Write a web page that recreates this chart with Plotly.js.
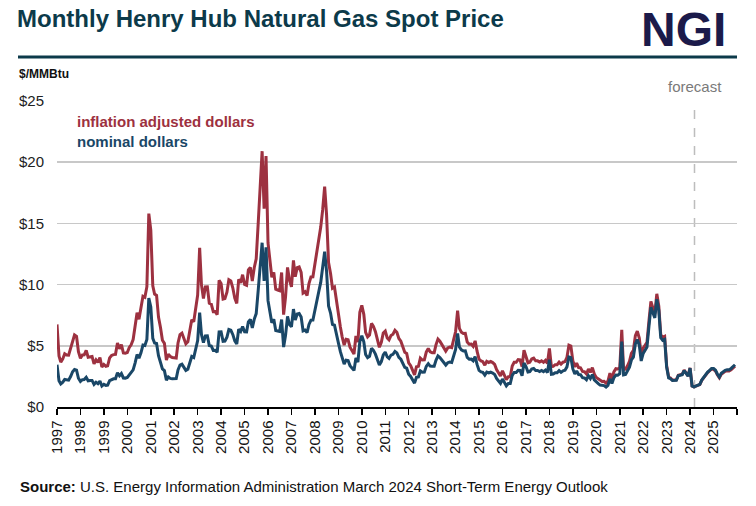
<!DOCTYPE html>
<html>
<head>
<meta charset="utf-8">
<script src="https://cdn.plot.ly/plotly-3.0.1.min.js"></script>
<style>
  html, body { margin: 0; padding: 0; background: #ffffff; }
  #chart { width: 756px; height: 506px; }
</style>
</head>
<body>
<div id="chart"></div>
<script>
// Henry Hub monthly spot price, $/MMBtu, Jan 1997 - Dec 2025 (2024-03 onward is forecast)
const startYear = 1997;

const nominalDollars = [
  3.45, 2.15, 1.89, 2.03, 2.25, 2.20, 2.19, 2.49, 2.88, 3.07, 3.01, 2.35, // 1997
  2.09, 2.23, 2.24, 2.43, 2.14, 2.17, 2.17, 1.85, 2.02, 1.91, 2.12, 1.72, // 1998
  1.85, 1.77, 1.79, 2.15, 2.26, 2.30, 2.31, 2.80, 2.55, 2.73, 2.37, 2.36, // 1999
  2.42, 2.66, 2.79, 3.04, 3.59, 4.29, 3.99, 4.43, 5.06, 5.02, 5.52, 8.90, // 2000
  8.17, 5.61, 5.23, 5.19, 4.19, 3.72, 3.11, 2.97, 2.19, 2.46, 2.34, 2.30, // 2001
  2.32, 2.32, 3.03, 3.43, 3.50, 3.26, 2.99, 3.09, 3.55, 4.13, 4.04, 4.74, // 2002
  5.43, 7.71, 5.93, 5.26, 5.81, 5.82, 5.03, 4.99, 4.62, 4.63, 4.47, 6.13, // 2003
  6.14, 5.37, 5.39, 5.71, 6.33, 6.27, 5.93, 5.41, 5.15, 6.35, 6.17, 6.58, // 2004
  6.15, 6.14, 6.96, 7.16, 6.47, 7.18, 7.63, 9.53, 11.75, 13.42, 10.30, 13.05, // 2005
  8.69, 7.54, 6.89, 7.16, 6.25, 6.21, 6.17, 7.14, 4.90, 5.85, 7.41, 6.73, // 2006
  6.55, 8.00, 7.11, 7.60, 7.64, 7.35, 6.22, 6.29, 6.08, 6.74, 7.10, 7.11, // 2007
  7.99, 8.54, 9.41, 10.18, 11.27, 12.69, 11.09, 8.26, 7.67, 6.74, 6.68, 5.82, // 2008
  5.24, 4.52, 3.96, 3.50, 3.83, 3.80, 3.38, 3.14, 2.99, 4.01, 3.66, 5.35, // 2009
  5.83, 5.32, 4.29, 4.03, 4.14, 4.80, 4.63, 4.32, 3.89, 3.43, 3.71, 4.25, // 2010
  4.49, 4.09, 3.97, 4.24, 4.31, 4.54, 4.42, 4.06, 3.90, 3.57, 3.24, 3.17, // 2011
  2.67, 2.50, 2.17, 1.95, 2.43, 2.46, 2.95, 2.84, 2.85, 3.32, 3.54, 3.34, // 2012
  3.33, 3.33, 3.81, 4.17, 4.04, 3.83, 3.62, 3.43, 3.62, 3.68, 3.64, 4.24, // 2013
  4.71, 6.00, 4.90, 4.66, 4.58, 4.59, 4.05, 3.91, 3.92, 3.78, 4.12, 3.48, // 2014
  2.99, 2.87, 2.83, 2.61, 2.85, 2.78, 2.84, 2.77, 2.66, 2.34, 2.09, 1.93, // 2015
  2.28, 1.99, 1.73, 1.92, 1.92, 2.59, 2.82, 2.82, 2.99, 2.98, 2.55, 3.59, // 2016
  3.30, 2.85, 2.88, 3.10, 3.15, 2.98, 2.98, 2.90, 2.98, 2.88, 3.01, 2.82, // 2017
  3.87, 2.67, 2.69, 2.80, 2.80, 2.97, 2.83, 2.96, 3.00, 3.28, 4.09, 4.04, // 2018
  3.11, 2.69, 2.95, 2.65, 2.64, 2.40, 2.37, 2.22, 2.56, 2.33, 2.65, 2.22, // 2019
  2.02, 1.91, 1.79, 1.74, 1.75, 1.63, 1.77, 2.30, 1.92, 2.39, 2.61, 2.59, // 2020
  2.71, 5.35, 2.62, 2.66, 2.91, 3.26, 3.84, 4.07, 5.16, 5.51, 5.05, 3.76, // 2021
  4.38, 4.69, 4.90, 6.60, 8.14, 7.70, 7.28, 8.81, 7.88, 5.66, 5.45, 5.53, // 2022
  3.27, 2.38, 2.31, 2.16, 2.15, 2.18, 2.55, 2.58, 2.64, 2.98, 2.71, 2.52, // 2023
  3.18, 1.72, 1.65, 1.70, 1.75, 1.85, 2.20, 2.45, 2.65, 2.85, 3.00, 3.15, // 2024
  3.15, 3.00, 2.70, 2.45, 2.75, 2.90, 3.00, 3.05, 3.05, 3.15, 3.30, 3.45  // 2025
];

const inflationAdjustedDollars = [
  6.75, 4.17, 3.67, 3.93, 4.35, 4.25, 4.23, 4.81, 5.54, 5.89, 5.78, 4.51, // 1997
  3.98, 4.25, 4.26, 4.63, 4.07, 4.13, 4.13, 3.52, 3.85, 3.64, 4.04, 3.27, // 1998
  3.48, 3.33, 3.37, 4.01, 4.21, 4.28, 4.30, 5.22, 4.75, 5.09, 4.42, 4.40, // 1999
  4.45, 4.87, 5.08, 5.51, 6.48, 7.70, 7.17, 7.96, 9.04, 8.96, 9.83, 15.80, // 2000
  14.46, 9.91, 9.22, 9.12, 7.34, 6.50, 5.45, 5.20, 3.83, 4.31, 4.12, 4.05, // 2001
  4.00, 4.00, 5.23, 5.92, 6.04, 5.62, 5.16, 5.33, 6.12, 7.12, 6.97, 8.18, // 2002
  9.15, 13.00, 10.00, 8.87, 9.80, 9.81, 8.48, 8.41, 7.79, 7.81, 7.54, 10.34, // 2003
  10.09, 8.82, 8.86, 9.38, 10.40, 10.30, 9.74, 8.89, 8.46, 10.43, 10.14, 10.81, // 2004
  10.02, 9.95, 11.20, 11.40, 10.30, 11.40, 12.10, 15.00, 18.40, 20.90, 16.20, 20.50, // 2005
  13.40, 11.60, 10.60, 11.00, 9.62, 9.56, 9.50, 10.99, 7.54, 9.00, 11.40, 10.36, // 2006
  9.81, 11.98, 10.64, 11.38, 11.44, 11.00, 9.31, 9.42, 9.10, 10.09, 10.63, 10.64, // 2007
  11.70, 12.50, 13.70, 14.70, 16.10, 18.00, 15.70, 11.80, 10.90, 9.70, 9.80, 8.60, // 2008
  7.58, 6.54, 5.73, 5.06, 5.54, 5.50, 4.89, 4.54, 4.33, 5.80, 5.30, 7.74, // 2009
  8.30, 7.57, 6.10, 5.73, 5.89, 6.83, 6.59, 6.15, 5.54, 4.88, 5.28, 6.05, // 2010
  6.20, 5.64, 5.48, 5.85, 5.95, 6.27, 6.10, 5.60, 5.38, 4.93, 4.47, 4.37, // 2011
  3.61, 3.38, 2.93, 2.63, 3.28, 3.32, 3.99, 3.84, 3.85, 4.49, 4.78, 4.51, // 2012
  4.44, 4.44, 5.08, 5.55, 5.38, 5.10, 4.82, 4.57, 4.82, 4.90, 4.85, 5.65, // 2013
  6.17, 7.87, 6.42, 6.11, 6.00, 6.02, 5.31, 5.13, 5.14, 4.96, 5.40, 4.56, // 2014
  3.91, 3.76, 3.70, 3.42, 3.73, 3.64, 3.72, 3.63, 3.48, 3.06, 2.74, 2.53, // 2015
  2.95, 2.57, 2.24, 2.48, 2.48, 3.35, 3.65, 3.65, 3.87, 3.85, 3.30, 4.64, // 2016
  4.18, 3.61, 3.65, 3.92, 3.99, 3.77, 3.77, 3.67, 3.77, 3.65, 3.81, 3.57, // 2017
  4.78, 3.30, 3.32, 3.46, 3.46, 3.67, 3.50, 3.66, 3.71, 4.05, 5.06, 4.99, // 2018
  3.78, 3.27, 3.58, 3.22, 3.20, 2.91, 2.88, 2.70, 3.11, 2.83, 3.22, 2.70, // 2019
  2.42, 2.29, 2.15, 2.09, 2.10, 1.95, 2.12, 2.76, 2.30, 2.87, 3.13, 3.11, // 2020
  3.21, 6.31, 3.07, 3.10, 3.36, 3.73, 4.38, 4.62, 5.83, 6.20, 5.63, 4.17, // 2021
  4.82, 5.11, 5.29, 7.06, 8.63, 8.09, 7.64, 9.25, 8.23, 5.91, 5.70, 5.78, // 2022
  3.37, 2.45, 2.37, 2.21, 2.20, 2.22, 2.60, 2.62, 2.68, 3.02, 2.74, 2.55, // 2023
  3.19, 1.72, 1.64, 1.69, 1.74, 1.83, 2.18, 2.42, 2.62, 2.81, 2.96, 3.10, // 2024
  3.08, 2.93, 2.63, 2.39, 2.68, 2.82, 2.91, 2.96, 2.95, 3.04, 3.18, 3.33  // 2025
];

const tickYears = ['1997','1998','1999','2000','2001','2002','2003','2004','2005','2006',
  '2007','2008','2009','2010','2011','2012','2013','2014','2015','2016',
  '2017','2018','2019','2020','2021','2022','2023','2024','2025'];
const yTickValues = [0, 5, 10, 15, 20, 25];
const yTickLabels = ['$0', '$5', '$10', '$15', '$20', '$25'];
const forecastStart = '2024-03-10';

// month-start dates for every value
const months = nominalDollars.map((_, i) => {
  const y = startYear + Math.floor(i / 12);
  const m = (i % 12) + 1;
  return y + '-' + String(m).padStart(2, '0') + '-01';
});

// tick at each January, plus an unlabeled closing tick
const tickVals = tickYears.map(y => y + '-01-01').concat(['2026-01-01']);
const tickText = tickYears.concat(['']);

const W = 756, H = 506;
const M = { l: 57, r: 19, t: 101, b: 99 };
const plotW = W - M.l - M.r, plotH = H - M.t - M.b;
const px = x => (x - M.l) / plotW;           // pixel -> paper x
const py = y => (H - M.b - y) / plotH;       // pixel -> paper y

const FONT = 'Arial, "Liberation Sans", sans-serif';
const NARROW = '"Liberation Sans Narrow", "Arial Narrow", Arial, "Liberation Sans", sans-serif';
const RED = '#9d3140';
const NAVY = '#1a4767';

const traces = [
  {
    x: months, y: inflationAdjustedDollars, type: 'scatter', mode: 'lines',
    name: 'inflation adjusted dollars',
    line: { color: RED, width: 3 }, hoverinfo: 'skip'
  },
  {
    x: months, y: nominalDollars, type: 'scatter', mode: 'lines',
    name: 'nominal dollars',
    line: { color: NAVY, width: 3 }, hoverinfo: 'skip'
  }
];

const layout = {
  width: W, height: H,
  margin: M,
  paper_bgcolor: '#ffffff', plot_bgcolor: '#ffffff',
  showlegend: false,
  font: { family: FONT, color: '#222' },
  title: {
    text: '<b>Monthly Henry Hub Natural Gas Spot Price</b>',
    font: { family: FONT, size: 24, color: '#0c3a4a' },
    xref: 'container', yref: 'container',
    x: 17 / W, xanchor: 'left',
    y: 1 - 19 / H, yanchor: 'middle'
  },
  xaxis: {
    type: 'date',
    range: ['1997-01-01', '2026-01-01'],
    tickmode: 'array', tickvals: tickVals, ticktext: tickText,
    tickangle: -90,
    ticks: 'outside', ticklen: 6, tickwidth: 1.5, tickcolor: '#000',
    showline: true, linecolor: '#000', linewidth: 1.5,
    showgrid: false, zeroline: false,
    tickfont: { family: FONT, size: 15, color: '#111' },
    fixedrange: true
  },
  yaxis: {
    range: [0, 25],
    tickmode: 'array', tickvals: yTickValues, ticktext: yTickLabels,
    showgrid: true, gridcolor: '#c8c8c8', gridwidth: 1.5,
    zeroline: false, showline: false, ticks: '',
    ticklabelstandoff: 12,
    tickfont: { family: FONT, size: 15, color: '#222' },
    fixedrange: true
  },
  shapes: [
    // rule under the heading
    { type: 'line', xref: 'paper', yref: 'paper',
      x0: px(18), x1: px(737), y0: py(57), y1: py(57),
      line: { color: '#0c3a4a', width: 3 } },
    // start of the forecast period
    { type: 'line', xref: 'x', yref: 'y',
      x0: forecastStart, x1: forecastStart, y0: 0, y1: 25,
      line: { color: '#bdbdbd', width: 1.5, dash: 'dash' }, layer: 'below' }
  ],
  annotations: [
    { text: '<b>NGI</b>', xref: 'paper', yref: 'paper',
      x: px(728), y: py(30), xanchor: 'right', yanchor: 'middle',
      showarrow: false, font: { family: NARROW, size: 48, color: '#1b1a4a' } },
    { text: '<b>$/MMBtu</b>', xref: 'paper', yref: 'paper',
      x: px(17), y: py(74), xanchor: 'left', yanchor: 'middle',
      showarrow: false, font: { family: FONT, size: 12, color: '#111' } },
    { text: 'forecast', xref: 'x', yref: 'paper',
      x: forecastStart, y: py(87), xanchor: 'center', yanchor: 'middle',
      showarrow: false, font: { family: FONT, size: 15, color: '#7a7a7a' } },
    { text: '<b>inflation adjusted dollars</b>', xref: 'paper', yref: 'paper',
      x: px(75), y: py(121), xanchor: 'left', yanchor: 'middle',
      showarrow: false, font: { family: FONT, size: 15, color: RED } },
    { text: '<b>nominal dollars</b>', xref: 'paper', yref: 'paper',
      x: px(75), y: py(141), xanchor: 'left', yanchor: 'middle',
      showarrow: false, font: { family: FONT, size: 15, color: NAVY } },
    { text: '<b>Source:</b> U.S. Energy Information Administration March 2024 Short-Term Energy Outlook',
      xref: 'paper', yref: 'paper',
      x: px(18), y: py(486), xanchor: 'left', yanchor: 'middle',
      showarrow: false, font: { family: FONT, size: 15, color: '#111' } }
  ]
};

Plotly.newPlot('chart', traces, layout, { displayModeBar: false, staticPlot: true });
</script>
</body>
</html>
